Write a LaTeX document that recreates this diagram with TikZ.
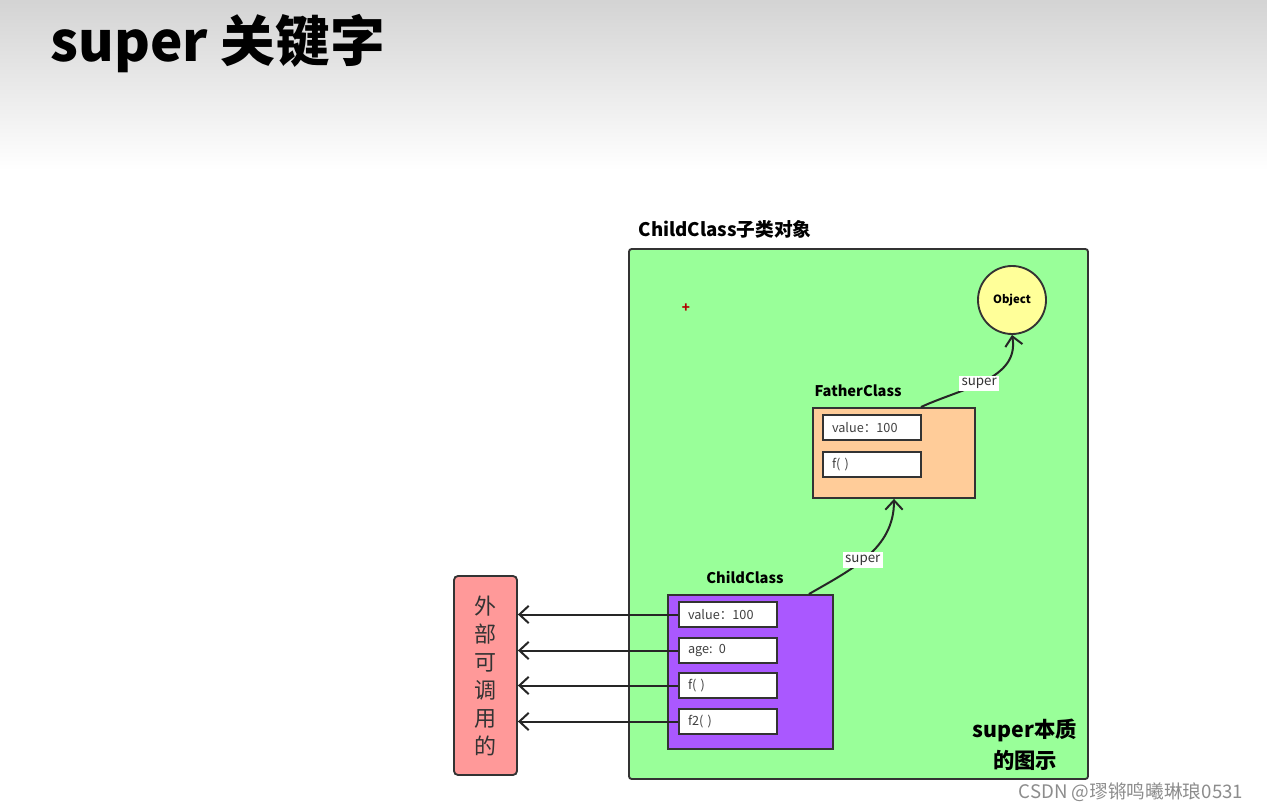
\documentclass[tikz,border=0pt]{standalone}
\usepackage{fontspec}
\setmainfont{Noto Sans CJK SC}
\usetikzlibrary{arrows.meta,positioning}
\definecolor{verde}{RGB}{153,255,153}
\definecolor{durazno}{RGB}{255,204,153}
\definecolor{morado}{RGB}{170,88,255}
\definecolor{salmon}{RGB}{255,153,153}
\definecolor{amarillo}{RGB}{255,255,153}
\tikzset{
  caja/.style={draw=black!80,line width=1.4pt},
  campo/.style={draw=black!80,line width=1.1pt,fill=white,minimum width=73.5pt,
    minimum height=18.75pt,text width=60pt,align=left,inner xsep=6.75pt,
    font=\fontsize{9.5}{11}\selectfont,text=black!75},
  flecha/.style={-{Straight Barb[length=7pt,width=13pt]},line width=1.5pt,black!85},
  etiqueta/.style={fill=white,inner sep=2pt,font=\fontsize{10}{12}\selectfont,text=black!80},
  titulo/.style={font=\bfseries\fontsize{11}{13}\selectfont}
}
\begin{document}
\begin{tikzpicture}[x=0.75pt,y=-0.75pt]
    \useasboundingbox (0,0) rectangle (1267,812);
    % Fondo
    \shade[top color=black!17,bottom color=white] (0,0) rectangle (1267,170);
    \node[anchor=west,font=\bfseries\fontsize{41}{46}\selectfont] (tit) at (46,44) {super 关键字};
    % Objeto hijo
    \node[anchor=west,titulo,font=\bfseries\fontsize{14}{16}\selectfont] (lblobj) at (634,229) {ChildClass子类对象};
    \node[caja,fill=verde,rounded corners=2pt,minimum width=344.25pt,minimum height=397.5pt] (hijo) at (858.5,514) {};
    \node[text=red!70!black,font=\bfseries\fontsize{10}{12}\selectfont] (cursor) at (686,308) {+};
    % Object
    \node[caja,circle,fill=amarillo,minimum size=51pt,inner sep=0pt,font=\bfseries\fontsize{8.5}{10}\selectfont] (obj) at (1012,300) {Object};
    % FatherClass
    \node[caja,fill=durazno,minimum width=121.5pt,minimum height=67.5pt] (padre) at (894,453) {};
    \node[titulo] (lblpadre) at (858,391) {FatherClass};
    \node[campo] (p1) at (872,427.5) {value：100};
    \node[campo] (p2) at (872,464.5) {f( )};
    % ChildClass
    \node[caja,fill=morado,minimum width=123.75pt,minimum height=115.5pt] (cc) at (750.5,672) {};
    \node[titulo] (lblcc) at (745,578) {ChildClass};
    \node[campo] (c1) at (728,614.5) {value：100};
    \node[campo] (c2) at (728,650.5) {age: 0};
    \node[campo] (c3) at (728,685.5) {f( )};
    \node[campo] (c4) at (728,721.5) {f2( )};
    % Externo
    \node[caja,fill=salmon,rounded corners=3pt,minimum width=47.25pt,minimum height=149.25pt,
      align=center,text=black!80,font=\fontsize{16.5}{21}\selectfont] (ext) at (485.5,675.5)
      {外\\部\\可\\调\\用\\的};
    % Flechas
    \draw[flecha] ([xshift=-18.75pt]cc.north east) to[out=30,in=-90]
      node[etiqueta,pos=0.45] (sup1) {super} (padre.south);
    \draw[flecha] ([xshift=-41.25pt]padre.north east) to[out=25,in=-80]
      node[etiqueta,pos=0.45] (sup2) {super} (obj.south);
    \foreach \c in {c1,c2,c3,c4}
      \draw[flecha] (\c.west) -- (\c.west -| ext.east);
    % Notas
    \node[align=center,font=\bfseries\fontsize{16}{23}\selectfont] (nota) at (1025,745) {super本质\\的图示};
    \node[text=black!45,font=\fontsize{14}{16}\selectfont] (marca) at (1131,792) {CSDN @璆锵鸣曦琳琅0531};
\end{tikzpicture}
\end{document}
